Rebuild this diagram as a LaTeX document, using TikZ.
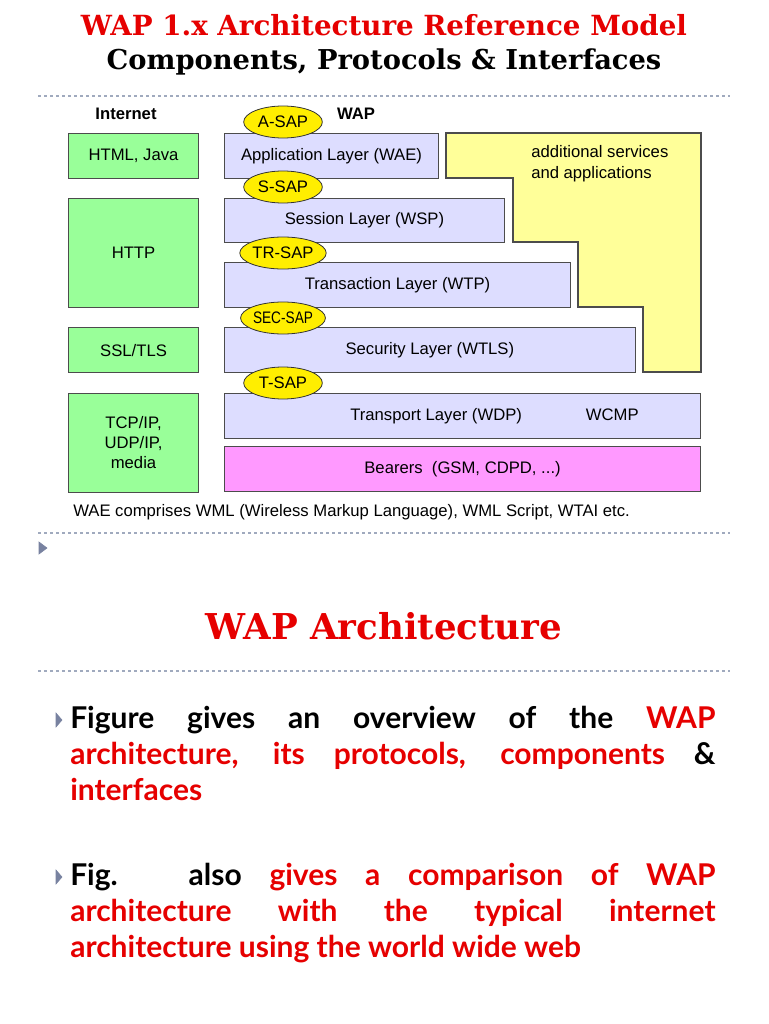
\documentclass[tikz,border=0pt]{standalone}
\usepackage{fontspec}
\setmainfont{Liberation Sans}
\newfontfamily\slab{DejaVu Serif}
\newfontfamily\gill{Lato}
\usetikzlibrary{shapes.geometric}
\definecolor{wapred}{RGB}{230,0,0}
\definecolor{netgreen}{RGB}{153,255,153}
\definecolor{layerblue}{RGB}{221,221,255}
\definecolor{bearer}{RGB}{255,153,255}
\definecolor{extra}{RGB}{255,255,153}
\definecolor{sapyel}{RGB}{255,238,0}
\definecolor{dashgrey}{RGB}{160,170,190}
\definecolor{bulgrey}{RGB}{120,130,160}
\tikzset{
  box/.style={draw=black!70, line width=0.8pt, anchor=north west, inner sep=0pt, font=\fontsize{12.5}{15}\selectfont},
  net/.style={box, fill=netgreen, minimum width=97.5pt, align=center},
  lay/.style={box, fill=layerblue},
  sap/.style={ellipse, draw=black!80, fill=sapyel, line width=0.6pt, minimum width=59pt, minimum height=24pt, inner sep=0pt, font=\fontsize{12.5}{14}\selectfont},
  sep/.style={dashgrey, dashed, line width=1pt, dash pattern=on 2.5pt off 2pt},
  bul/.style={bulgrey, fill=bulgrey},
  para/.style={anchor=north west, text width=484pt, align=justify, inner sep=0pt, font=\gill\bfseries\fontsize{22.5}{27}\selectfont}
}
\begin{document}
\begin{tikzpicture}[x=0.75pt,y=-0.75pt]
\useasboundingbox[fill=white] (0,0) rectangle (768,1024);
% titles
\node[font=\slab\bfseries\fontsize{20.8}{24}\selectfont, text=wapred] (t1) at (384,25) {WAP 1.x Architecture Reference Model};
\node[font=\slab\bfseries\fontsize{20.5}{24}\selectfont] (t2) at (384,62) {Components, Protocols \& Interfaces};
\draw[sep] (38,96) -- (730,96);
% column heads
\node[font=\bfseries\fontsize{12.5}{14}\selectfont] (inet) at (126,114) {Internet};
\node[font=\bfseries\fontsize{12.5}{14}\selectfont] (wap) at (356,114) {WAP};
% yellow extra area
\draw[fill=extra, draw=black!70, line width=0.8pt] (446,133) -- (701,133) -- (701,372) -- (643,372) -- (643,307)
  -- (578,307) -- (578,242) -- (513,242) -- (513,178) -- (446,178) -- cycle;
\node[anchor=north west, align=left, inner sep=0pt, font=\fontsize{12.5}{16}\selectfont] (addl) at (531,145) {additional services\\and applications};
% internet stack
\node[net, minimum height=34pt] (html) at (68,133) {HTML, Java};
\node[net, minimum height=82pt] (http) at (68,198) {HTTP};
\node[net, minimum height=34pt] (ssl) at (68,327) {SSL/TLS};
\node[net, minimum height=74pt] (tcp) at (68,393) {TCP/IP,\\UDP/IP,\\media};
% wap stack
\node[lay, minimum width=160.5pt, minimum height=34pt] (wae) at (224,133) {Application Layer (WAE)};
\node[lay, minimum width=210pt, minimum height=33pt] (wsp) at (224,198) {Session Layer (WSP)};
\node[lay, minimum width=259.5pt, minimum height=34pt] (wtp) at (224,262) {Transaction Layer (WTP)};
\node[lay, minimum width=308pt, minimum height=34pt] (wtls) at (224,327) {Security Layer (WTLS)};
\node[lay, minimum width=357pt, minimum height=34pt] (wdp) at (224,393) {\hspace*{48pt}Transport Layer (WDP)\hspace*{48pt}WCMP};
\node[box, fill=bearer, minimum width=357pt, minimum height=34pt] (bear) at (224,446) {Bearers\ \ (GSM, CDPD, ...)};
% service access points
\node[sap] (asap) at (283,122) {A-SAP};
\node[sap] (ssap) at (283,187) {S-SAP};
\node[sap] (trsap) at (283,253) {TR-SAP};
\node[sap] (secsap) at (283,318) {\scalebox{0.82}[1]{SEC-SAP}};
\node[sap] (tsap) at (283,383) {T-SAP};
\node[anchor=west, inner sep=0pt, font=\fontsize{12.5}{14}\selectfont] (cap) at (73,512) {WAE comprises WML (Wireless Markup Language), WML Script, WTAI etc.};
\draw[sep] (38,533) -- (730,533);
\draw[bul] (39,542) -- (47,548) -- (39,554) -- cycle;
% section title
\node[font=\slab\bfseries\fontsize{26.7}{30}\selectfont, text=wapred] (t3) at (384,626) {WAP Architecture};
\draw[sep] (38,671) -- (730,671);
% bullets
\draw[bul] (56,713) -- (62,720) -- (56,727) -- cycle;
\node[para] (p1) at (70,706) {Figure gives an overview of the \textcolor{wapred}{WAP}\linebreak \textcolor{wapred}{architecture, its protocols, components} \&\linebreak \textcolor{wapred}{interfaces}};
\draw[bul] (56,870) -- (62,877) -- (56,884) -- cycle;
\node[para] (p2) at (70,863) {Fig. also \textcolor{wapred}{gives a comparison of WAP}\linebreak \textcolor{wapred}{architecture with the typical internet}\linebreak \textcolor{wapred}{architecture using the world wide web}};
\end{tikzpicture}
\end{document}
